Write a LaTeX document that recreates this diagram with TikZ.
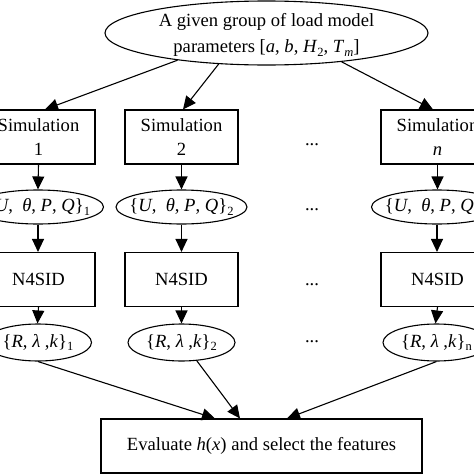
\documentclass[tikz,border=0pt]{standalone}
\usepackage{fontspec}
\setmainfont{Liberation Serif}
\usetikzlibrary{arrows.meta,shapes.geometric}
\newcommand\sbs[1]{\raisebox{-0.45ex}{\fontsize{12.5}{12.5}\selectfont #1}}
\begin{document}
\begin{tikzpicture}[x=1pt,y=-1pt,
  font=\fontsize{18.6}{24}\selectfont,
  line width=1.1pt,
  arr/.style={-{Triangle[length=13pt,width=12pt]}},
  box/.style={draw, rectangle, minimum width=113pt, minimum height=54pt, inner sep=0pt, align=center},
  ovalA/.style={draw, ellipse, inner sep=0pt, minimum width=131pt, minimum height=34pt},
  ovalB/.style={draw, ellipse, inner sep=0pt, minimum width=107pt, minimum height=37pt},
  dots/.style={anchor=base, inner sep=0pt}]
\fill[white] (0,0) rectangle (474,474);
\useasboundingbox (0,0) rectangle (474,474);

% top ellipse
\node[draw, ellipse, inner sep=0pt, minimum width=323pt, minimum height=64pt,
  label={[align=center, font=\fontsize{18.6}{26}\selectfont, yshift=-2pt]center:{A given group of load model\\parameters [\textit{a}, \textit{b}, \textit{H}\sbs{2}, \textit{T}\sbs{\textit{m}}]}}]
  (top) at (266.5,33) {};

% simulation boxes
\node[box] (sim1) at (38.5,137) {Simulation\\1};
\node[box] (sim2) at (181.5,137) {Simulation\\2};
\node[box] (simn) at (437.5,137) {Simulation\\\textit{n}};

% measurement ellipses
\node[ovalA, label={center:{\{\textit{U},\enspace\textit{θ}, \textit{P}, \textit{Q}\}\sbs{1}}}] (u1) at (38,207) {};
\node[ovalA, label={center:{\{\textit{U},\enspace\textit{θ}, \textit{P}, \textit{Q}\}\sbs{2}}}] (u2) at (181.5,207) {};
\node[ovalA, label={center:{\{\textit{U},\enspace\textit{θ}, \textit{P}, \textit{Q}\}\sbs{\textit{n}}}}] (un) at (437,207) {};

% N4SID boxes
\node[box] (n1) at (38.5,279.5) {N4SID};
\node[box] (n2) at (181.5,279.5) {N4SID};
\node[box] (nn) at (437.5,279.5) {N4SID};

% result ellipses
\node[ovalB, label={center:{\{\textit{R}, \textit{λ} ,\textit{k}\}\sbs{1}}}] (r1) at (38,342.5) {};
\node[ovalB, label={center:{\{\textit{R}, \textit{λ} ,\textit{k}\}\sbs{2}}}] (r2) at (181.5,342.5) {};
\node[ovalB, label={center:{\{\textit{R}, \textit{λ} ,\textit{k}\}\sbs{n}}}] (rn) at (436.5,342.5) {};

% dots
\node[dots] (d1) at (312,145) {...};
\node[dots] (d2) at (312,210) {...};
\node[dots] (d3) at (312,285) {...};
\node[dots] (d4) at (312,342) {...};

% evaluation box
\node[draw, rectangle, minimum width=321pt, minimum height=54pt, inner sep=0pt]
  (eval) at (261.5,446) {Evaluate \textit{h}(\textit{x}) and select the features};

% connectors
\draw[arr] (top.197) -- ([xshift=6.5pt]sim1.north);
\draw[arr] (top.213) -- ([xshift=1.5pt]sim2.north);
\draw[arr] (top.339) -- ([xshift=-4.5pt]simn.north);

\draw[arr] (sim1.south) -- (u1.north);
\draw[arr] (sim2.south) -- (u2.north);
\draw[arr] (simn.south) -- ([xshift=0.5pt]un.north);

\draw[arr] (u1.south) -- ([xshift=-0.5pt]n1.north);
\draw[arr] (u2.south) -- (n2.north);
\draw[arr] (un.south) -- ([xshift=-0.5pt]nn.north);

\draw[arr] (n1.south) -- ([xshift=-0.5pt]r1.north);
\draw[arr] (n2.south) -- (r2.north);
\draw[arr] (nn.south) -- ([xshift=-1pt]rn.north);

\draw[arr] (r1.south) -- ([xshift=-46.5pt]eval.north);
\draw[arr] (r2.310) -- ([xshift=-21.5pt]eval.north);
\draw[arr] (rn.south) -- ([xshift=25.5pt]eval.north);
\end{tikzpicture}
\end{document}
